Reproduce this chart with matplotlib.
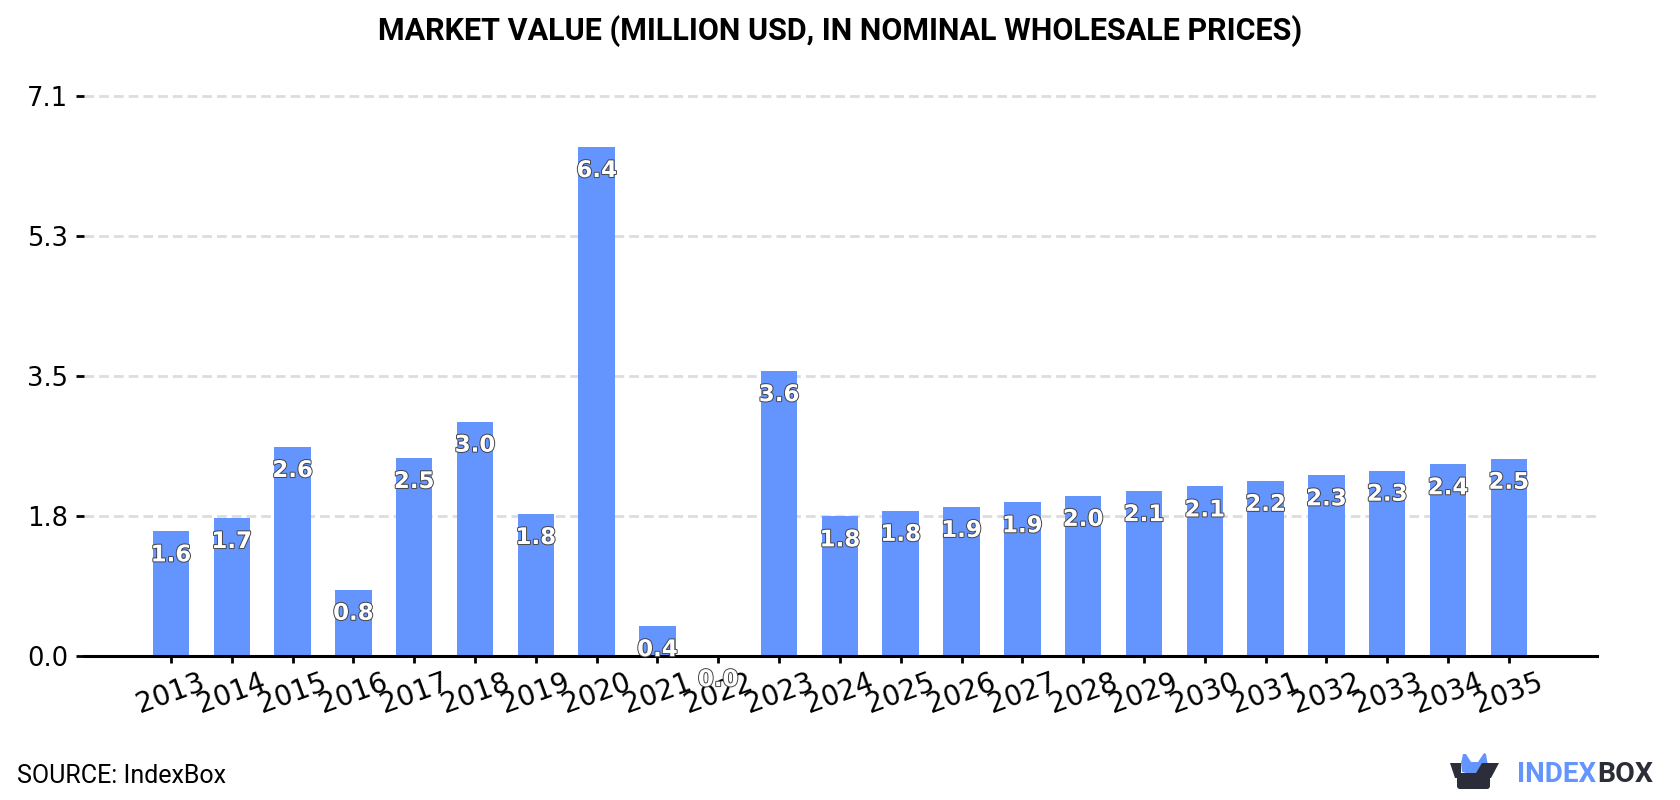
import matplotlib
matplotlib.use('Agg')
import matplotlib.pyplot as plt
import matplotlib.patheffects as pe
from matplotlib.patches import Polygon, FancyBboxPatch

years = [2013, 2014, 2015, 2016, 2017, 2018, 2019, 2020, 2021, 2022, 2023, 2024,
         2025, 2026, 2027, 2028, 2029, 2030, 2031, 2032, 2033, 2034, 2035]
values = [1.58, 1.749, 2.649, 0.84, 2.51, 2.97, 1.80, 6.449, 0.38, 0.0, 3.61, 1.77,
          1.84, 1.89, 1.949, 2.03, 2.09, 2.149, 2.22, 2.29, 2.349, 2.43, 2.50]
ytick_pos = [0, 1.775, 3.55, 5.325, 7.1]
ytick_labels = ['0.0', '1.8', '3.5', '5.3', '7.1']

BLUE = '#6495ff'
DARK = '#2b2d38'

W, H = 1680, 800
fig = plt.figure(figsize=(W / 100, H / 100), dpi=100, facecolor='white')

# axes box in pixels: left, bottom, width, height
ax = fig.add_axes([84 / W, (H - 656) / H, (1597 - 84) / W, (656 - 79) / H])
x = list(range(len(years)))
ax.bar(x, values, width=0.6, color=BLUE, zorder=2)
ax.set_xlim(-1.43, 23.45)
ax.set_ylim(0, 7.31)

ax.set_xticks(x)
ax.set_xticklabels(years, rotation=20, fontsize=20, color='black')
ax.set_yticks(ytick_pos)
ax.set_yticklabels(ytick_labels, fontsize=18.5, color='black')
ax.tick_params(axis='x', length=5, width=2, pad=4)
ax.tick_params(axis='y', length=5.5, width=2, pad=6)
ax.grid(axis='y', color='#dddddd', linestyle=(0, (3.5, 1.8)), linewidth=2, zorder=0)
ax.set_axisbelow(True)

for side in ['top', 'left', 'right']:
    ax.spines[side].set_visible(False)
ax.spines['bottom'].set_linewidth(2.2)
ax.spines['bottom'].set_color('black')

# value labels sit inside the bars, just under the top edge
for xi, v in zip(x, values):
    ax.annotate(f'{v:.1f}', (xi, v), xytext=(0, -17), textcoords='offset points',
                ha='center', va='center', fontsize=16.5, fontweight='bold', color='white',
                annotation_clip=False, zorder=5,
                path_effects=[pe.withStroke(linewidth=1.4, foreground='#444444')])

fig.text(0.5, 1 - 31 / H, 'MARKET VALUE (MILLION USD, IN NOMINAL WHOLESALE PRICES)',
         ha='center', va='center', fontsize=22, fontweight='bold',
         family='Roboto', color='black')
fig.text(17 / W, 1 - 776 / H, 'SOURCE: IndexBox', ha='left', va='center',
         fontsize=18, family='Roboto', color='black')

# logo, drawn on an overlay in pixel coordinates
logo = fig.add_axes([0, 0, 1, 1], facecolor='none')
logo.set_xlim(0, W)
logo.set_ylim(H, 0)
logo.axis('off')
logo.add_patch(Polygon([(1461, 763), (1463, 754), (1466, 754), (1471, 762), (1478, 762),
                        (1484, 753), (1486, 754), (1489, 772), (1470, 774), (1462, 772)],
                       closed=True, facecolor=BLUE, edgecolor='none'))
logo.add_patch(FancyBboxPatch((1457, 775), 33, 14, boxstyle='round,pad=0,rounding_size=3',
                              facecolor=DARK, edgecolor='none'))
logo.add_patch(Polygon([(1450, 763), (1461, 763), (1461, 773), (1476, 773), (1482, 763),
                        (1499, 763), (1491, 778), (1455, 778)],
                       closed=True, facecolor=DARK, edgecolor='none'))
logo.text(1517, 775, 'INDEX', ha='left', va='center', fontsize=20, fontweight='bold',
          family='Roboto', color=BLUE)
logo.text(1597, 775, 'BOX', ha='left', va='center', fontsize=20.5, fontweight='bold',
          family='Roboto', color=DARK)

fig.savefig('out.png', dpi=100)
